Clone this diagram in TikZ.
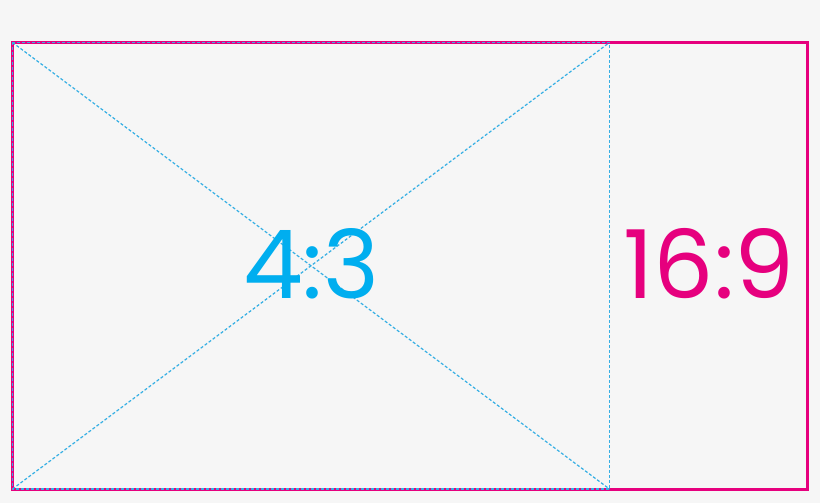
\documentclass[tikz,border=0pt]{standalone}
\usepackage{fontspec}
\setmainfont{Poppins}
\definecolor{wideframe}{HTML}{E6007E}
\definecolor{oldframe}{HTML}{35AFE4}
\definecolor{labelblue}{HTML}{00AEEF}
\definecolor{paper}{HTML}{F6F6F6}
\tikzset{
  frame169/.style={draw=wideframe, line width=3pt},
  frame43/.style={draw=oldframe, line width=1.6pt, dash pattern=on 3pt off 2pt},
  ratio/.style={inner sep=0pt, font=\fontsize{95}{95}\selectfont}
}
\begin{document}
\begin{tikzpicture}[x=1pt,y=-1pt]
	\useasboundingbox[fill=paper] (0,0) rectangle (820,503);

	\coordinate (topleft) at (12.5,42.5);
	\coordinate (topmid) at (609.5,42.5);
	\coordinate (topright) at (807.5,42.5);
	\coordinate (botleft) at (12.5,489);
	\coordinate (botmid) at (609.5,489);
	\coordinate (botright) at (807.5,489);

	\draw [frame169] (topleft) rectangle (botright);
	\draw [frame43] (topleft) rectangle (botmid);
	\draw [frame43, line width=1.2pt] (topleft) -- (botmid);
	\draw [frame43, line width=1.2pt] (botleft) -- (topmid);

	\node [ratio, text=labelblue] (old) at (311,264) {4:3};
	\node [ratio, text=wideframe] (wide) at (709,264) {16:9};
\end{tikzpicture}
\end{document}
